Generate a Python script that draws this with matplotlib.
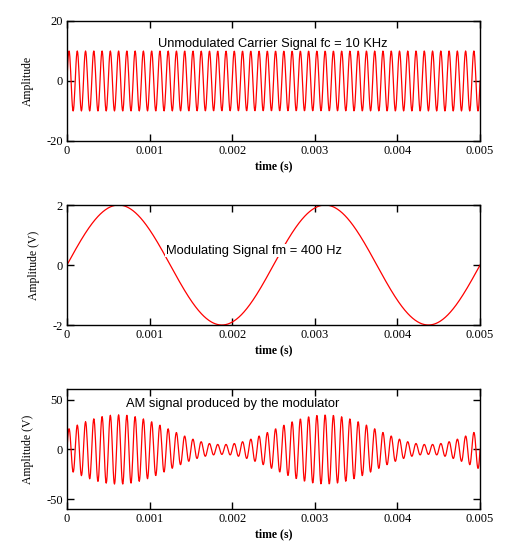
import numpy as np
import matplotlib
matplotlib.use('Agg')
import matplotlib.pyplot as plt

# signal parameters
t_start, t_stop = 0.0, 0.005
n_samples = 1000
fc = 10000.0        # carrier frequency (Hz)
fm = 400.0          # modulating frequency (Hz)
carrier_amp = 10.0
mod_amp = 2.0
am_offset = 20.0    # AM envelope centre
am_depth = 15.0     # AM envelope swing

x_ticks = [0, 0.001, 0.002, 0.003, 0.004, 0.005]
x_ticklabels = ['0', '0.001', '0.002', '0.003', '0.004', '0.005']

titles = ['Unmodulated Carrier Signal fc = 10 KHz',
          'Modulating Signal fm = 400 Hz',
          'AM signal produced by the modulator']
ylabels = ['Amplitude', 'Amplitude (V)', 'Amplitude (V)']
y_ticks = [[-20, 0, 20], [-2, 0, 2], [-50, 0, 50]]
y_lims = [(-20, 20), (-2, 2), (-60, 61)]

t = np.linspace(t_start, t_stop, n_samples)
carrier = carrier_amp * np.sin(2 * np.pi * fc * t)
message = mod_amp * np.sin(2 * np.pi * fm * t)
am = (am_offset + am_depth * np.sin(2 * np.pi * fm * t)) * np.sin(2 * np.pi * fc * t)
signals = [carrier, message, am]

# text placement (axes fraction)
title_pos = [(0.22, 0.81), (0.24, 0.62), (0.143, 0.875)]

fig = plt.figure(figsize=(5.19, 5.55), dpi=100)
bottoms = [0.746, 0.4144, 0.0829]

for i in range(3):
    ax = fig.add_axes([0.129, bottoms[i], 0.796, 0.2162])
    ax.plot(t, signals[i], color='#ff0000', lw=0.9)
    ax.set_xlim(t_start, t_stop)
    ax.set_ylim(*y_lims[i])
    ax.set_xticks(x_ticks)
    ax.set_xticklabels(x_ticklabels, family='Liberation Serif', fontsize=9)
    ax.set_yticks(y_ticks[i])
    ax.set_yticklabels([str(v) for v in y_ticks[i]], family='Liberation Serif', fontsize=9)
    ax.tick_params(direction='in', length=5, width=1, top=True, right=True, pad=3)
    for s in ax.spines.values():
        s.set_linewidth(1)
    ax.set_xlabel('time (s)', family='Liberation Serif', fontweight='bold',
                  fontsize=8.5, labelpad=2)
    ax.set_ylabel(ylabels[i], family='Liberation Serif', fontsize=8.5, labelpad=9)
    ax.text(title_pos[i][0], title_pos[i][1], titles[i], transform=ax.transAxes,
            family='Liberation Sans', fontsize=9.3, ha='left', va='center',
            bbox=dict(facecolor='white', edgecolor='none', pad=0.5))

fig.savefig('out.png', dpi=100)
